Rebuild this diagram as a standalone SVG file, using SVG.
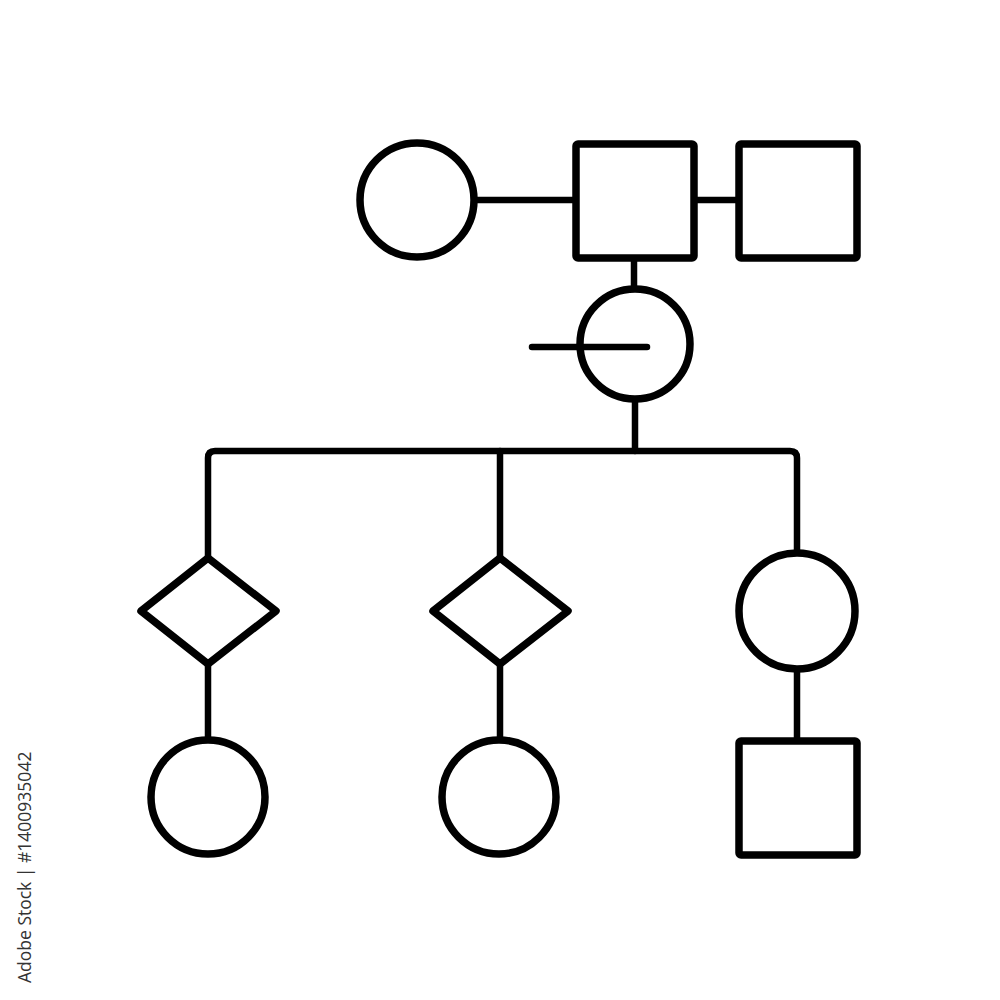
<svg xmlns="http://www.w3.org/2000/svg" width="1000" height="1000" viewBox="0 0 1000 1000">
<style>
.s{fill:#fff;stroke:#000;stroke-width:7.5;stroke-linejoin:round}
.c{fill:none;stroke:#000;stroke-width:6.5;stroke-linecap:round;stroke-linejoin:round}
.wm{font-family:"Open Sans","Noto Sans",sans-serif;font-size:17.5px;fill:#333}
</style>
<rect width="1000" height="1000" fill="#fff"/>
<g id="connectors">
<line class="c" x1="475" y1="200" x2="575" y2="200"/>
<line class="c" x1="695" y1="200" x2="738" y2="200"/>
<line class="c" x1="634" y1="258" x2="634" y2="288"/>
<line class="c" x1="635" y1="400" x2="635" y2="451"/>
<path class="c" d="M208 557 V458 Q208 451 215 451 H790 Q797 451 797 458 V551"/>
<line class="c" x1="500" y1="451" x2="500" y2="557"/>
<line class="c" x1="208" y1="664" x2="208" y2="740"/>
<line class="c" x1="500" y1="664" x2="500" y2="740"/>
<line class="c" x1="797" y1="670" x2="797" y2="740"/>
</g>
<g id="n-top-circle"><circle class="s" cx="417" cy="200" r="57"/></g>
<g id="n-top-square1"><rect class="s" x="576" y="144" width="118" height="114" rx="2"/></g>
<g id="n-top-square2"><rect class="s" x="739" y="144" width="118" height="114" rx="2"/></g>
<g id="n-mid-circle"><circle class="s" cx="635" cy="344" r="55"/>
<line class="c" x1="532" y1="347" x2="647" y2="347"/></g>
<g id="n-diamond1"><polygon class="s" points="208,558 276,611 208,664 141,611"/></g>
<g id="n-diamond2"><polygon class="s" points="500,558 568,611 500,664 433,611"/></g>
<g id="n-right-circle"><circle class="s" cx="797" cy="611" r="58"/></g>
<g id="n-circle-bl"><circle class="s" cx="208" cy="797" r="57"/></g>
<g id="n-circle-bm"><circle class="s" cx="499" cy="797" r="57"/></g>
<g id="n-square-br"><rect class="s" x="739" y="741" width="118" height="114" rx="2"/></g>
<text class="wm" transform="translate(31,983) rotate(-90)">Adobe Stock | #1400935042</text>
</svg>
